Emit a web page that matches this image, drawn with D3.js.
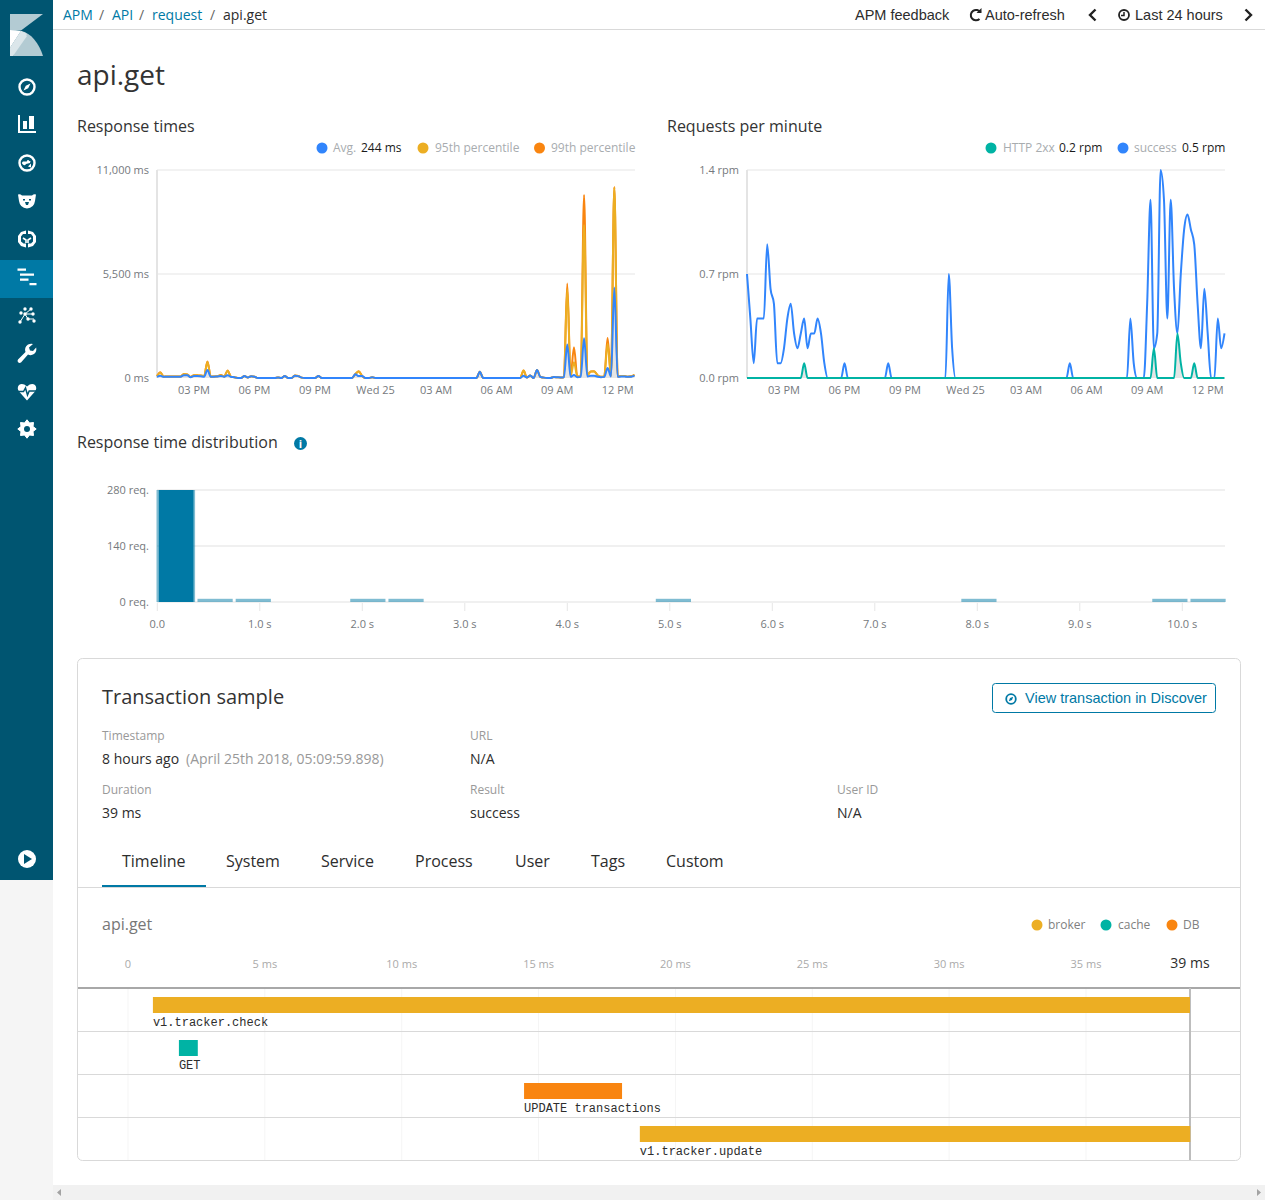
<!DOCTYPE html>
<html><head><meta charset="utf-8">
<script src="https://cdnjs.cloudflare.com/ajax/libs/d3/7.8.5/d3.min.js"></script>
<style>
html,body{margin:0;padding:0;background:#fff;overflow:hidden}
svg{display:block}
text{font-family:"Open Sans",sans-serif}
.lib{font-family:"Liberation Sans",Arial,sans-serif}
.mono{font-family:"Liberation Mono",monospace}
</style></head><body>
<svg id="c" width="1265" height="1200"></svg>
<script>
// ---------- data ----------
const avgMs = [60,120,60,70,70,70,70,70,150,150,40,100,100,90,70,420,60,70,80,100,70,150,60,40,0,0,110,20,90,70,0,0,0,0,0,0,30,0,100,0,0,120,100,20,0,0,0,0,110,0,0,0,0,0,0,0,0,0,0,200,100,100,0,0,40,0,0,0,0,0,0,0,0,0,0,0,0,0,0,0,0,0,0,0,0,0,0,0,0,0,0,0,0,0,0,0,330,0,0,0,0,0,0,0,0,0,0,0,0,120,30,130,0,420,60,20,0,0,50,40,30,40,1770,60,160,40,60,2100,80,120,120,70,40,60,530,80,4780,60,80,80,60,70,130];
const p95Ms = [100,280,70,80,80,80,80,80,210,190,50,150,140,130,100,850,70,80,90,150,80,390,70,40,0,0,110,20,90,70,0,0,0,0,0,0,30,0,100,0,0,130,110,20,0,0,0,0,110,0,0,0,0,0,0,0,0,0,0,210,350,100,0,0,40,0,0,0,0,0,0,0,0,0,0,0,0,0,0,0,0,0,0,0,0,0,0,0,0,0,0,0,0,0,0,0,330,0,0,0,0,0,0,0,0,0,0,0,0,400,30,130,0,420,60,20,0,0,50,40,30,40,4700,100,830,80,100,8090,150,340,340,150,60,80,1800,100,10080,80,100,100,70,90,170];
const p99Ms = [100,300,70,80,80,80,80,80,210,190,50,150,140,130,100,870,70,80,90,160,80,400,70,40,0,0,110,20,90,70,0,0,0,0,0,0,30,0,100,0,0,130,110,20,0,0,0,0,110,0,0,0,0,0,0,0,0,0,0,210,360,100,0,0,40,0,0,0,0,0,0,0,0,0,0,0,0,0,0,0,0,0,0,0,0,0,0,0,0,0,0,0,0,0,0,0,330,0,0,0,0,0,0,0,0,0,0,0,0,400,30,130,0,420,60,20,0,0,50,40,30,40,5000,100,1630,80,100,9680,150,350,360,150,60,80,2120,120,10100,80,100,100,70,90,170];
const rpmSuccess = [.7,.4,.1,.4,.4,.4,.9,.6,.5,.1,.1,.2,.4,.5,.3,.2,.3,.4,.2,.3,.3,.4,.3,.1,0,0,0,0,0,.1,0,0,0,0,0,0,0,0,0,0,0,0,.1,0,0,0,0,0,0,0,0,0,0,0,0,0,0,0,0,0,.7,.2,0,0,0,0,0,0,0,0,0,0,0,0,0,0,0,0,0,0,0,0,0,0,0,0,0,0,0,0,0,0,0,0,0,0,.1,0,0,0,0,0,0,0,0,0,0,0,0,0,0,0,0,0,.4,.1,0,0,0,.5,1.2,.2,.3,1.4,1.2,.4,1.2,.6,.3,.7,1.0,1.1,1.0,.9,.5,.2,.6,.3,0,0,.4,.2,.3];
const rpm2xx = [0,0,0,0,0,0,0,0,0,0,0,0,0,0,0,0,0,.1,0,0,0,0,0,0,0,0,0,0,0,0,0,0,0,0,0,0,0,0,0,0,0,0,0,0,0,0,0,0,0,0,0,0,0,0,0,0,0,0,0,0,0,0,0,0,0,0,0,0,0,0,0,0,0,0,0,0,0,0,0,0,0,0,0,0,0,0,0,0,0,0,0,0,0,0,0,0,0,0,0,0,0,0,0,0,0,0,0,0,0,0,0,0,0,0,0,0,0,0,0,0,0,.2,0,0,0,0,0,0,.3,.1,0,0,0,.1,0,0,0,0,0,0,0,0,0];
const histBuckets = [0,1,2,5,6,13,21,26,27];
const histCounts = [280,8,8,8,8,8,8,8,8];
const histTicks = [0,1,2,3,4,5,6,7,8,9,10];
const spanNames = ["v1.tracker.check","GET","UPDATE transactions","v1.tracker.update"];
const spanStarts = [0.91,1.86,14.47,18.7];
const spanDurations = [37.89,0.69,3.58,20.11];
const spanKinds = ["broker","cache","DB","broker"];
const timelineTicks = [0,5,10,15,20,25,30,35];
const tabNames = ["Timeline","System","Service","Process","User","Tags","Custom"];

const BLUE="#3185fc",YEL="#ecae23",ORA="#f98510",TEAL="#00b3a4",KBLUE="#0079a5";
const kindColor={broker:YEL,cache:TEAL,DB:ORA};
const svg=d3.select("#c");
const txt=(x,y,s,o={})=>svg.append("text").attr("x",x).attr("y",y).text(s)
  .attr("font-size",o.size||14).attr("fill",o.fill||"#2d2d2d").attr("text-anchor",o.anchor||"start")
  .attr("class",o.cls||null).attr("font-weight",o.weight||null);

// ---------- chrome ----------
svg.append("rect").attr("width",1265).attr("height",1200).attr("fill","#fff");
svg.append("rect").attr("x",0).attr("y",0).attr("width",53).attr("height",1200).attr("fill","#f5f5f5");
svg.append("rect").attr("x",0).attr("y",0).attr("width",53).attr("height",880).attr("fill","#005571");
svg.append("rect").attr("x",0).attr("y",260).attr("width",53).attr("height",38).attr("fill",KBLUE);
svg.append("rect").attr("x",53).attr("y",29).attr("width",1212).attr("height",1).attr("fill","#d9d9d9");
svg.append("rect").attr("x",53).attr("y",1185).attr("width",1212).attr("height",15).attr("fill","#f1f1f1");
svg.append("path").attr("d","M57 1192.5l4-3.5v7z M1261 1192.5l-4-3.5v7z").attr("fill","#a3a3a3");

// logo
const logo=svg.append("g");
logo.append("path").attr("d","M10 14H43L21 30.5Q15 30 10 30Z").attr("fill","#b3cbd3");
logo.append("path").attr("d","M21 31C31 33 39 43 43 56H13Z").attr("fill","#b3cbd3");
logo.append("path").attr("d","M10 30Q16 30 21 31L10 48Z").attr("fill","#fff");
logo.append("path").attr("d","M10 48L21 31Q24 32 27 34L10 56Z").attr("fill","#dbe6ea");
logo.append("path").attr("d","M10 48L10 56H13L27 36L21 31Z").attr("fill","#dbe6ea");

// side icons
const icon=(y)=>svg.append("g").attr("transform",`translate(27,${y})`);
let g;
g=icon(87);g.append("circle").attr("r",7.5).attr("fill","none").attr("stroke","#fff").attr("stroke-width",2.4);
g.append("path").attr("d","M3.5-3.5L1.2 1.2-3.5 3.5-1.2-1.2Z").attr("fill","#fff");
g=icon(124);g.append("path").attr("d","M-9-9H-7V7H9V9H-9Z M-4-3H0V5H-4Z M2-8H7V5H2Z").attr("fill","#fff");
g=icon(163);g.append("circle").attr("r",7.5).attr("fill","none").attr("stroke","#fff").attr("stroke-width",2.4);
g.append("path").attr("d","M-4-1.5a2 2 0 1 0 3 2.5l4-1 .5-2-5 .5zM1-3a1.2 1.2 0 1 0 .1 0zM4 .5l-3 3 3 1z").attr("fill","#fff");
g=icon(201);g.append("path").attr("d","M-9-6.5Q-7-7.5-5-5.5H5Q7-7.5 9-6.5L8 0Q7 7-0 7.5Q-7 7-8 0Z").attr("fill","#fff");
g.append("path").attr("d","M-4-2h2v1.5h-2zM2-2h2v1.5H2zM-2 1H2L1 4H-1Z").attr("fill","#005571");
g=icon(239);g.append("path").attr("d","M-1-8.5V-5H-4L-6-2.5V2.5L-3.5 4.5 -1 4.5V8.5L-6 7-9 3V-3L-6-7ZM1-8.5L6-7 9-3V3L6 7 1 8.5V4.5L4 4.5 6 2.5V-2.5L4-5H1Z").attr("fill","#fff");
g.append("path").attr("d","M-4-1L-1 1V4M4-1L1 1V4").attr("stroke","#fff").attr("stroke-width",1.6).attr("fill","none");
g=icon(277);g.append("path").attr("d","M-9.5-8.5h8.5v2.3h-8.5z M-7-3.5H7v2.3H-7z M-7 1.5h8.5v2.3H-7z M2.5 6H9.5v2.3H2.5z").attr("fill","#fff");
g=icon(315);g.append("path").attr("d","M-7 7L-2-1 4-6M-2-1L6-1M-2-1L1 4 7 4").attr("stroke","#fff").attr("stroke-width",1).attr("fill","none");
[[-7,7],[-2,-1],[4,-6],[-2,-6],[6,-1],[1,4],[7,6],[-6,-2]].forEach(p=>g.append("circle").attr("cx",p[0]).attr("cy",p[1]).attr("r",1.7).attr("fill","#fff"));
g=icon(353);g.append("path").attr("d","M-9 6.5L-1.5-1Q-3-6 1-8.5Q4-9.8 6-9L2-5.5 3-2.5 6-2 9.2-5.5Q10-1.5 7 1Q4 3 1 1.5L-6 9.5Q-8 10.5-9 9Q-10 8-9 6.5Z").attr("fill","#fff");
g=icon(392);g.append("path").attr("d","M0 8.5L-8-0.5Q-10.5-4-8-7Q-4.5-9.5 0-5.5Q4.5-9.5 8-7Q10.5-4 8-.5Z").attr("fill","#fff");
g.append("path").attr("d","M-9-.5H-3.5L-1.5-4 .5 3 2.2-1H9").attr("stroke","#005571").attr("stroke-width",1.5).attr("fill","none");
g=icon(429);g.append("path").attr("d",d3.range(16).map(i=>{const r=i%2?6.5:9.2,j=Math.floor(i/2);const a=(j+(i%2?.5:0))*Math.PI/4;return (i?"L":"M")+(r*Math.cos(a)).toFixed(1)+" "+(r*Math.sin(a)).toFixed(1)}).join("")+"Z").attr("fill","#fff").attr("stroke","#fff").attr("stroke-width",1);
g.append("circle").attr("r",3).attr("fill","#005571");
g=icon(859);g.append("circle").attr("r",9).attr("fill","#fff");
g.append("path").attr("d","M-3-5L5 0-3 5Z").attr("fill","#005571");

// breadcrumbs
[["APM",63,KBLUE],["/",99,"#666"],["API",112,KBLUE],["/",139,"#666"],["request",152,KBLUE],["/",210,"#666"],["api.get",223,"#2d2d2d"]].forEach(d=>txt(d[1],20,d[0],{fill:d[2]}));
txt(855,20,"APM feedback",{cls:"lib",size:14.5,fill:"#2d2d2d"});
txt(985,20,"Auto-refresh",{cls:"lib",size:14.5,fill:"#2d2d2d"});
txt(1135,20,"Last 24 hours",{cls:"lib",size:14.5,fill:"#2d2d2d"});
svg.append("path").attr("d","M980.5 12.5A5.2 5.2 0 1 0 979.5 19").attr("fill","none").attr("stroke","#222").attr("stroke-width",2);
svg.append("path").attr("d","M976.5 13H981.5V8Z").attr("fill","#222");
svg.append("path").attr("d","M1095.5 9.5L1090 15 1095.5 20.5M1245.5 9.5L1251 15 1245.5 20.5").attr("fill","none").attr("stroke","#222").attr("stroke-width",2.4);
svg.append("circle").attr("cx",1124).attr("cy",15).attr("r",5).attr("fill","none").attr("stroke","#222").attr("stroke-width",1.8);
svg.append("path").attr("d","M1124 12V15.5H1121").attr("fill","none").attr("stroke","#222").attr("stroke-width",1.5);

txt(77,85,"api.get",{size:28,fill:"#333"});
txt(77,132,"Response times",{size:16,fill:"#333"});
txt(667,132,"Requests per minute",{size:16,fill:"#333"});
txt(77,448,"Response time distribution",{size:16,fill:"#333"});
svg.append("circle").attr("cx",300.5).attr("cy",443.5).attr("r",6.5).attr("fill",KBLUE);
txt(300.5,448,"i",{size:11,fill:"#fff",anchor:"middle",weight:700});

// ---------- line charts ----------
const t0=Date.UTC(2018,3,24,13,10), stepMs=600000;
const dates=avgMs.map((_,i)=>new Date(t0+i*stepMs));
const hourFmt=d=>d.getUTCHours()===0?"Wed 25":d3.utcFormat("%I %p")(d);
function lineChart(x0,yMax,yFmt,series,grey){
  const x=d3.scaleUtc().domain([dates[0],dates[dates.length-1]]).range([x0,x0+477.5]);
  const y=d3.scaleLinear().domain([0,yMax]).range([378,170]);
  const gx=svg.append("g");
  gx.selectAll("line.g").data([yMax/2,yMax]).join("line").attr("x1",x0).attr("x2",x0+478).attr("y1",y).attr("y2",y).attr("stroke","#f2f2f2").attr("stroke-width",2);
  gx.append("line").attr("x1",x0).attr("x2",x0).attr("y1",170).attr("y2",378).attr("stroke","#e4e4e4").attr("stroke-width",2);
  gx.selectAll("text.y").data([0,yMax/2,yMax]).join("text").attr("x",x0-8).attr("y",d=>y(d)+4).attr("text-anchor","end").attr("font-size",11).attr("fill","#75797d").text(yFmt);
  gx.selectAll("text.x").data(x.ticks(d3.utcHour.every(3))).join("text").attr("x",d=>x(d)).attr("y",394).attr("text-anchor","middle").attr("font-size",11).attr("fill","#75797d").text(hourFmt);
  const line=d3.line().x((d,i)=>x(dates[i])).y(d=>y(d)).curve(d3.curveMonotoneX);
  const area=d3.area().x((d,i)=>x(dates[i])).y0(378).y1(d=>y(d)).curve(d3.curveMonotoneX);
  svg.append("path").attr("d",area(grey)).attr("fill","#000").attr("fill-opacity",.1);
  series.forEach(s=>svg.append("path").attr("d",line(s.v)).attr("fill","none").attr("stroke",s.c).attr("stroke-width",2).attr("stroke-linejoin","round"));
}
lineChart(157,11000,d=>d3.format(",")(d)+" ms",[{v:p99Ms,c:ORA},{v:p95Ms,c:YEL},{v:avgMs,c:BLUE}],avgMs);
lineChart(747,1.4,d=>d.toFixed(1)+" rpm",[{v:rpmSuccess,c:BLUE},{v:rpm2xx,c:TEAL}],rpm2xx);

const legend=(x,y,c,lbl,lx,val,vx,o={})=>{
  svg.append("circle").attr("cx",x).attr("cy",y).attr("r",o.r||5.5).attr("fill",c);
  txt(lx,y+4,lbl,{size:12,fill:o.fill||"#a8acaf"});
  if(val)txt(vx,y+4,val,{size:12,fill:"#1a1a1a"});
};
legend(322,148,BLUE,"Avg.",333,"244 ms",361);
legend(423,148,YEL,"95th percentile",435);
legend(539.5,148,ORA,"99th percentile",551);
legend(991,148,TEAL,"HTTP 2xx",1003,"0.2 rpm",1059);
legend(1123,148,BLUE,"success",1134,"0.5 rpm",1182);

// ---------- histogram ----------
{
  const bw=0.3726;
  const x=d3.scaleLinear().domain([0,10]).range([157.3,1182.3]);
  const y=d3.scaleLinear().domain([0,280]).range([602,490]);
  svg.selectAll("line.hg").data([140,280,0]).join("line").attr("x1",157).attr("x2",1225).attr("y1",y).attr("y2",y).attr("stroke","#f0f0f0").attr("stroke-width",2);
  svg.selectAll("line.ht").data(histTicks).join("line").attr("x1",x).attr("x2",x).attr("y1",603).attr("y2",611).attr("stroke","#e6e6e6");
  svg.selectAll("text.hx").data(histTicks).join("text").attr("x",x).attr("y",628).attr("text-anchor","middle").attr("font-size",11).attr("fill","#75797d").text(d=>d?d.toFixed(1)+" s":"0.0");
  svg.selectAll("text.hy").data([0,140,280]).join("text").attr("x",149).attr("y",d=>y(d)+4).attr("text-anchor","end").attr("font-size",11).attr("fill","#75797d").text(d=>d+" req.");
  const bars=histBuckets.map((k,i)=>({k,c:histCounts[i]}));
  svg.selectAll("rect.lb").data(bars).join("rect")
    .attr("x",d=>x(d.k*bw)+(d.k?2:-.8)).attr("width",d=>x(bw)-x(0)-(d.k?3:-.4))
    .attr("y",d=>y(d.c)).attr("height",d=>y(0)-y(d.c)).attr("fill",KBLUE).attr("fill-opacity",.5);
  svg.selectAll("rect.db").data(bars.filter(d=>d.c>100)).join("rect")
    .attr("x",d=>x(d.k*bw)+1.5).attr("width",x(bw)-x(0)-3.5)
    .attr("y",d=>y(d.c)).attr("height",d=>y(0)-y(d.c)).attr("fill",KBLUE);
}

// ---------- transaction sample ----------
svg.append("rect").attr("x",77.5).attr("y",658.5).attr("width",1163).attr("height",502).attr("rx",5).attr("fill","#fff").attr("stroke","#d9d9d9");
txt(102,704,"Transaction sample",{size:20,fill:"#333"});
svg.append("rect").attr("x",992.5).attr("y",683.5).attr("width",223).attr("height",29).attr("rx",3).attr("fill","#fff").attr("stroke",KBLUE);
svg.append("circle").attr("cx",1011).attr("cy",699).attr("r",4.8).attr("fill","none").attr("stroke",KBLUE).attr("stroke-width",1.8);
svg.append("path").attr("d","M1013.2 696.8L1012 700 1008.8 701.2 1010 698Z").attr("fill",KBLUE);
txt(1025,703,"View transaction in Discover",{cls:"lib",size:14.5,fill:KBLUE});
[["Timestamp",102,740],["URL",470,740],["Duration",102,794],["Result",470,794],["User ID",837,794]].forEach(d=>txt(d[1],d[2],d[0],{size:12,fill:"#999"}));
txt(102,764,"8 hours ago",{});
txt(186,764,"(April 25th 2018, 05:09:59.898)",{fill:"#999"});
[["N/A",470,764],["39 ms",102,818],["success",470,818],["N/A",837,818]].forEach(d=>txt(d[1],d[2],d[0],{}));
[122,226,321,415,515,591,666].forEach((x,i)=>txt(x,867,tabNames[i],{size:16,fill:"#2d2d2d"}));
svg.append("rect").attr("x",78).attr("y",887).attr("width",1162).attr("height",1).attr("fill","#d9d9d9");
svg.append("rect").attr("x",102).attr("y",885).attr("width",104).attr("height",2).attr("fill",KBLUE);
txt(102,930,"api.get",{size:16,fill:"#777"});
legend(1037,925,YEL,"broker",1048,null,0,{fill:"#808080"});
legend(1106,925,TEAL,"cache",1118,null,0,{fill:"#808080"});
legend(1172,925,ORA,"DB",1183,null,0,{fill:"#808080"});

// ---------- timeline ----------
{
  const x=d3.scaleLinear().domain([0,38.8]).range([128,1190]);
  const rowTop=988,rowH=43;
  const y=i=>rowTop+i*rowH;
  svg.selectAll("line.tv").data(timelineTicks).join("line").attr("x1",x).attr("x2",x).attr("y1",rowTop).attr("y2",1160).attr("stroke","#f5f5f5");
  svg.selectAll("text.tl").data(timelineTicks).join("text").attr("x",x).attr("y",968).attr("text-anchor","middle").attr("font-size",11).attr("fill","#aaa").text(d=>d?d+" ms":"0");
  txt(1190,968,"39 ms",{size:14,anchor:"middle",fill:"#2d2d2d"});
  svg.append("rect").attr("x",78).attr("y",987).attr("width",1162).attr("height",2).attr("fill","#a8a8a8");
  svg.selectAll("rect.sep").data([1,2,3]).join("rect").attr("x",78).attr("width",1162).attr("y",d=>y(d)).attr("height",1).attr("fill","#d9d9d9");
  svg.append("line").attr("x1",x(38.8)).attr("x2",x(38.8)).attr("y1",rowTop).attr("y2",1160).attr("stroke","#bdbdbd").attr("stroke-width",2);
  const spans=spanNames.map((n,i)=>({n,i,s:spanStarts[i],d:spanDurations[i],k:spanKinds[i]}));
  svg.selectAll("rect.sp").data(spans).join("rect").attr("x",d=>x(d.s)).attr("width",d=>x(d.d)-x(0)).attr("y",d=>y(d.i)+9).attr("height",16).attr("fill",d=>kindColor[d.k]);
  svg.selectAll("text.sl").data(spans).join("text").attr("class","mono").attr("x",d=>x(d.s)).attr("y",d=>y(d.i)+38).attr("font-size",12).attr("fill","#2d2d2d").text(d=>d.n);
}
</script></body></html>
